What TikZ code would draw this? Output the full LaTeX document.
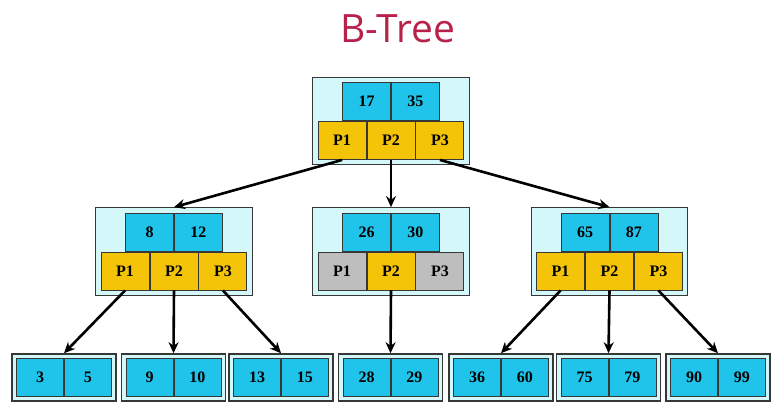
\documentclass[tikz,border=0pt]{standalone}
\usepackage{fontspec}
\setmainfont{Liberation Serif}
\newfontfamily\titlefont{Open Sans}
\usepackage{tikz}
\usetikzlibrary{positioning, arrows.meta, fit}
\usepackage{xcolor}
\definecolor{keycyan}{RGB}{32,196,234}
\definecolor{ptrgold}{RGB}{244,196,8}
\definecolor{ptrgray}{RGB}{190,190,190}
\definecolor{boxcyan}{RGB}{212,247,249}
\definecolor{edgegray}{RGB}{55,55,55}
\definecolor{titlered}{RGB}{184,34,74}

\begin{document}
\begin{tikzpicture}[
      x=1pt, y=1pt,
      >={Stealth[length=11pt, width=10pt]},
      cell/.style={
        rectangle,
        draw=edgegray,
        line width=0.9pt,
        minimum width=48pt,
        minimum height=38pt,
        inner sep=0pt,
        font=\fontsize{16}{16}\selectfont\bfseries,
      },
      keycell/.style={cell, fill=keycyan},
      ptrcell/.style={cell, fill=ptrgold},
      nullcell/.style={cell, fill=ptrgray},
      leafcell/.style={cell, fill=keycyan, minimum width=47pt, minimum height=38pt},
      container/.style={
        rectangle,
        draw=edgegray,
        line width=1pt,
        fill=boxcyan,
        inner sep=5pt,
      },
      leafbox/.style={container, line width=1.6pt, inner sep=4pt},
      link/.style={->, line width=2.6pt},
    ]
      % declare background layer
      \pgfdeclarelayer{background}
      \pgfsetlayers{background,main}

      \useasboundingbox (0,0) rectangle (776,414);

      % title
      \node[font=\titlefont\fontsize{39}{39}\selectfont, text=titlered] (title) at (398,385) {B-Tree};

      % root node
      \node[ptrcell] (rp2) at (391,273.5) {P2};
      \node[ptrcell, left=0pt of rp2] (rp1) {P1};
      \node[ptrcell, right=0pt of rp2] (rp3) {P3};
      \node[keycell, anchor=south east] (rk1) at (rp2.north) {17};
      \node[keycell, anchor=south west] (rk2) at (rp2.north) {35};

      % left inner node
      \node[ptrcell] (ap2) at (174,143) {P2};
      \node[ptrcell, left=0pt of ap2] (ap1) {P1};
      \node[ptrcell, right=0pt of ap2] (ap3) {P3};
      \node[keycell, anchor=south east] (ak1) at (ap2.north) {8};
      \node[keycell, anchor=south west] (ak2) at (ap2.north) {12};

      % middle inner node
      \node[ptrcell] (bp2) at (391,143) {P2};
      \node[nullcell, left=0pt of bp2] (bp1) {P1};
      \node[nullcell, right=0pt of bp2] (bp3) {P3};
      \node[keycell, anchor=south east] (bk1) at (bp2.north) {26};
      \node[keycell, anchor=south west] (bk2) at (bp2.north) {30};

      % right inner node
      \node[ptrcell] (cp2) at (609.5,143) {P2};
      \node[ptrcell, left=0pt of cp2] (cp1) {P1};
      \node[ptrcell, right=0pt of cp2] (cp3) {P3};
      \node[keycell, anchor=south east] (ck1) at (cp2.north) {65};
      \node[keycell, anchor=south west] (ck2) at (cp2.north) {87};

      % leaves
      \node[leafcell, anchor=east] (l1a) at (64,36.5) {3};
      \node[leafcell, right=0pt of l1a] (l1b) {5};
      \node[leafcell, anchor=east] (l2a) at (173.5,36.5) {9};
      \node[leafcell, right=0pt of l2a] (l2b) {10};
      \node[leafcell, anchor=east] (l3a) at (281,36.5) {13};
      \node[leafcell, right=0pt of l3a] (l3b) {15};
      \node[leafcell, anchor=east] (l4a) at (390.5,36.5) {28};
      \node[leafcell, right=0pt of l4a] (l4b) {29};
      \node[leafcell, anchor=east] (l5a) at (501,36.5) {36};
      \node[leafcell, right=0pt of l5a] (l5b) {60};
      \node[leafcell, anchor=east] (l6a) at (608.5,36.5) {75};
      \node[leafcell, right=0pt of l6a] (l6b) {79};
      \node[leafcell, anchor=east] (l7a) at (718,36.5) {90};
      \node[leafcell, right=0pt of l7a] (l7b) {99};

      % containers in background
      \begin{pgfonlayer}{background}
        \node[container, fit=(rk1) (rk2) (rp1) (rp3)] (root) {};
        \node[container, fit=(ak1) (ak2) (ap1) (ap3)] (nleft) {};
        \node[container, fit=(bk1) (bk2) (bp1) (bp3)] (nmid) {};
        \node[container, fit=(ck1) (ck2) (cp1) (cp3)] (nright) {};
        \node[leafbox, fit=(l1a) (l1b)] (leaf1) {};
        \node[leafbox, fit=(l2a) (l2b)] (leaf2) {};
        \node[leafbox, fit=(l3a) (l3b)] (leaf3) {};
        \node[leafbox, fit=(l4a) (l4b)] (leaf4) {};
        \node[leafbox, fit=(l5a) (l5b)] (leaf5) {};
        \node[leafbox, fit=(l6a) (l6b)] (leaf6) {};
        \node[leafbox, fit=(l7a) (l7b)] (leaf7) {};
      \end{pgfonlayer}

      % pointers from root
      \draw[link] (rp1.south) -- (nleft.north);
      \draw[link] (rp2.south) -- (nmid.north);
      \draw[link] (rp3.south) -- (nright.north);
      % pointers to leaves
      \draw[link] (ap1.south) -- (leaf1.north);
      \draw[link] (ap2.south) -- (leaf2.north);
      \draw[link] (ap3.south) -- (leaf3.north);
      \draw[link] (bp2.south) -- (leaf4.north);
      \draw[link] (cp1.south) -- (leaf5.north);
      \draw[link] (cp2.south) -- (leaf6.north);
      \draw[link] (cp3.south) -- (leaf7.north);
    \end{tikzpicture}
\end{document}
